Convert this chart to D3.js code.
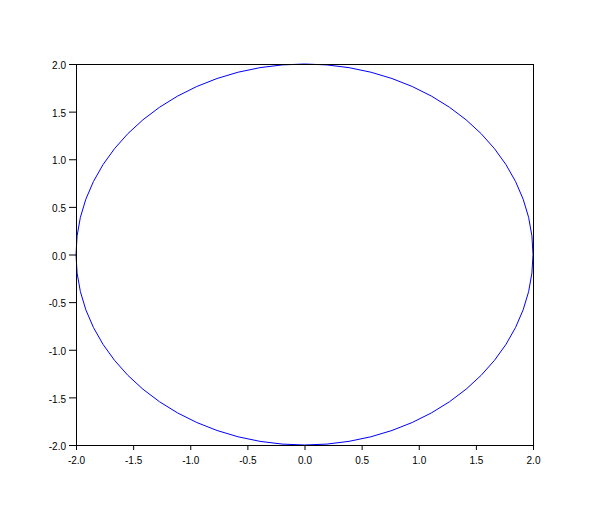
<!DOCTYPE html>
<html>
<head>
<meta charset="utf-8">
<script src="https://cdn.jsdelivr.net/npm/d3@7"></script>
<style>
  body { margin: 0; background: #fff; }
  .axes-font text { font-family: "Liberation Sans", Arial, sans-serif; font-size: 10px; fill: #000; }
  .axes-font path, .axes-font line { stroke: #000; }
</style>
</head>
<body>
<div id="vis"></div>
<script>
// chart values
const X_TICKS = [-2.0, -1.5, -1.0, -0.5, 0.0, 0.5, 1.0, 1.5, 2.0];
const Y_TICKS = [-2.0, -1.5, -1.0, -0.5, 0.0, 0.5, 1.0, 1.5, 2.0];
const X_DOMAIN = [-2, 2];
const Y_DOMAIN = [-2, 2];
const CIRCLE_CENTER = [0, 0];
const CIRCLE_RADIUS = [2];

const FRAME_WIDTH = 610;
const FRAME_HEIGHT = 509;
const MARGINS = {left: 76, right: 77, top: 64, bottom: 64};

const FRAME = d3.select("#vis")
                .append("svg")
                .attr("width", FRAME_WIDTH)
                .attr("height", FRAME_HEIGHT);

// scales
const X_SCALE = d3.scaleLinear()
                  .domain(X_DOMAIN)
                  .range([MARGINS.left, FRAME_WIDTH - MARGINS.right]);
const Y_SCALE = d3.scaleLinear()
                  .domain(Y_DOMAIN)
                  .range([FRAME_HEIGHT - MARGINS.bottom, MARGINS.top]);

// tick labels use a plain hyphen for the minus sign
const fmt = (d) => d.toFixed(1);

// the circle, drawn through the scales
FRAME.append("ellipse")
     .attr("cx", X_SCALE(CIRCLE_CENTER[0]))
     .attr("cy", Y_SCALE(CIRCLE_CENTER[1]))
     .attr("rx", X_SCALE(CIRCLE_CENTER[0] + CIRCLE_RADIUS[0]) - X_SCALE(CIRCLE_CENTER[0]))
     .attr("ry", Y_SCALE(CIRCLE_CENTER[1]) - Y_SCALE(CIRCLE_CENTER[1] + CIRCLE_RADIUS[0]))
     .attr("fill", "none")
     .attr("stroke", "#0000ff")
     .attr("stroke-width", 1);

// frame box
FRAME.append("rect")
     .attr("x", X_SCALE(X_DOMAIN[0]) + 0.5)
     .attr("y", Y_SCALE(Y_DOMAIN[1]) + 0.5)
     .attr("width", X_SCALE(X_DOMAIN[1]) - X_SCALE(X_DOMAIN[0]))
     .attr("height", Y_SCALE(Y_DOMAIN[0]) - Y_SCALE(Y_DOMAIN[1]))
     .attr("fill", "none")
     .attr("stroke", "#000")
     .attr("stroke-width", 1);

// x-axis
FRAME.append("g")
     .attr("transform", "translate(0," + Y_SCALE(Y_DOMAIN[0]) + ")")
     .attr("class", "axes-font")
     .call(d3.axisBottom(X_SCALE)
             .tickValues(X_TICKS)
             .tickFormat(fmt)
             .tickSize(5)
             .tickSizeOuter(0)
             .tickPadding(7));

// y-axis
FRAME.append("g")
     .attr("transform", "translate(" + X_SCALE(X_DOMAIN[0]) + ",0)")
     .attr("class", "axes-font")
     .call(d3.axisLeft(Y_SCALE)
             .tickValues(Y_TICKS)
             .tickFormat(fmt)
             .tickSize(7)
             .tickSizeOuter(0)
             .tickPadding(3))
     .selectAll("text")
     .attr("dy", "0.47em");

// axis domain lines are covered by the frame box
FRAME.selectAll(".domain").remove();
</script>
</body>
</html>
